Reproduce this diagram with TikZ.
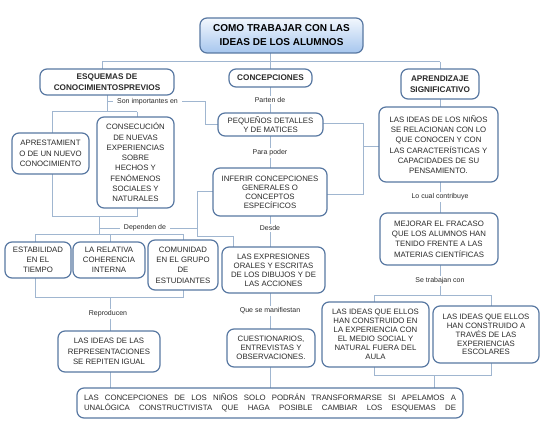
\documentclass[tikz,border=0pt]{standalone}
\usepackage{fontspec}
\setmainfont{Liberation Sans}
\usetikzlibrary{backgrounds}
\definecolor{boxc}{HTML}{5878A2}
\definecolor{linec}{HTML}{A0B6D0}
\definecolor{txtc}{HTML}{2A2A2A}
\definecolor{titlec}{HTML}{A6C6EE}
\definecolor{titletop}{HTML}{F2F7FD}
\begin{document}
\begin{tikzpicture}[x=1pt,y=-1pt,
  box/.style={draw=boxc, line width=1.2pt, rounded corners=7pt, fill=white, align=center, inner sep=0pt, text=txtc, font=\fontsize{7.8}{10.3}\selectfont},
  tight/.style={font=\fontsize{7.8}{8.9}\selectfont},
  hbox/.style={box, font=\bfseries\fontsize{8.2}{10.5}\selectfont},
  lab/.style={fill=white, inner xsep=4pt, inner ysep=1.5pt, text=txtc, font=\fontsize{7}{8}\selectfont},
  conn/.style={draw=linec, line width=1pt}]
\useasboundingbox (0,0) rectangle (560,433);
% boxes
\node[box, top color=titletop, bottom color=titlec, text=black, font=\bfseries\fontsize{10}{14}\selectfont, minimum width=163pt, minimum height=35pt] (title) at (281.5,35.5) {COMO TRABAJAR CON LAS\\IDEAS DE LOS ALUMNOS};
\node[hbox, minimum width=134pt, minimum height=26pt] (esq) at (107,82) {ESQUEMAS DE\\CONOCIMIENTOSPREVIOS};
\node[hbox, minimum width=83pt, minimum height=18pt] (conc) at (270.5,78) {CONCEPCIONES};
\node[hbox, minimum width=78pt, minimum height=30pt] (apr) at (440,84) {APRENDIZAJE\\SIGNIFICATIVO};
\node[box, minimum width=77pt, minimum height=41pt] (apres) at (50.5,153.5) {APRESTAMIENT\\O DE UN NUEVO\\CONOCIMIENTO};
\node[box, minimum width=77pt, minimum height=91pt] (consec) at (135.5,162.5) {CONSECUCIÓN\\DE NUEVAS\\EXPERIENCIAS\\SOBRE\\HECHOS Y\\FENÓMENOS\\SOCIALES Y\\NATURALES};
\node[box, tight, minimum width=105pt, minimum height=23pt] (peq) at (270.5,124.5) {PEQUEÑOS DETALLES\\Y DE MATICES};
\node[box, tight, minimum width=114pt, minimum height=48pt] (inf) at (270,192) {INFERIR CONCEPCIONES\\GENERALES O\\CONCEPTOS\\ESPECÍFICOS};
\node[box, minimum width=119pt, minimum height=75pt] (ninos) at (438.5,144.5) {LAS IDEAS DE LOS NIÑOS\\SE RELACIONAN CON LO\\QUE CONOCEN Y CON\\LAS CARACTERÍSTICAS Y\\CAPACIDADES DE SU\\PENSAMIENTO.};
\node[box, minimum width=118pt, minimum height=52pt] (mej) at (439,239) {MEJORAR EL FRACASO\\QUE LOS ALUMNOS HAN\\TENIDO FRENTE A LAS\\MATERIAS CIENTÍFICAS};
\node[box, minimum width=66pt, minimum height=36pt] (estab) at (38,260) {ESTABILIDAD\\EN EL\\TIEMPO};
\node[box, minimum width=72pt, minimum height=36pt] (relat) at (109,260) {LA RELATIVA\\COHERENCIA\\INTERNA};
\node[box, minimum width=70pt, minimum height=50pt] (comun) at (183,265) {COMUNIDAD\\EN EL GRUPO\\DE\\ESTUDIANTES};
\node[box, tight, minimum width=103pt, minimum height=46pt] (expr) at (273.5,270) {LAS EXPRESIONES\\ORALES Y ESCRITAS\\DE LOS DIBUJOS Y DE\\LAS ACCIONES};
\node[box, tight, minimum width=107pt, minimum height=65pt] (ideasA) at (375.5,334.5) {LAS IDEAS QUE ELLOS\\HAN CONSTRUIDO EN\\LA EXPERIENCIA CON\\EL MEDIO SOCIAL Y\\NATURAL FUERA DEL\\AULA};
\node[box, tight, minimum width=106pt, minimum height=57pt] (ideasB) at (486,334.5) {LAS IDEAS QUE ELLOS\\HAN CONSTRUIDO A\\TRAVÉS DE LAS\\EXPERIENCIAS\\ESCOLARES};
\node[box, minimum width=102pt, minimum height=41pt] (repr) at (109,351.5) {LAS IDEAS DE LAS\\REPRESENTACIONES\\SE REPITEN IGUAL};
\node[box, tight, minimum width=88pt, minimum height=38pt] (cuest) at (271,348) {CUESTIONARIOS,\\ENTREVISTAS Y\\OBSERVACIONES.};
\node[box, font=\fontsize{7.8}{10.5}\selectfont, minimum width=386pt, minimum height=30pt] (bot) at (270,403) {\makebox[372pt][s]{LAS CONCEPCIONES DE LOS NIÑOS SOLO PODRÁN TRANSFORMARSE SI APELAMOS A}\\\makebox[372pt][s]{UNALÓGICA CONSTRUCTIVISTA QUE HAGA POSIBLE CAMBIAR LOS ESQUEMAS DE}};
% labels
\node[lab] (l1) at (147.5,102) {Son importantes en};
\node[lab] (l2) at (145,228) {Dependen de};
\node[lab] (l3) at (270,228) {Desde};
\node[lab] (l4) at (108,314) {Reproducen};
\node[lab] (l5) at (270,311) {Que se manifiestan};
\node[lab] (l6) at (440,197) {Lo cual contribuye};
\node[lab] (l7) at (440,281) {Se trabajan con};
\node[lab] (l8) at (270,100) {Parten de};
\node[lab] (l9) at (270,153) {Para poder};
% junctions
\coordinate (tL) at (102,62); \coordinate (tR) at (440,62);
\coordinate (e0) at (107,102); \coordinate (e1) at (107,112);
\coordinate (k1) at (205,102);
\coordinate (a1) at (52,112); \coordinate (c1) at (137,112);
\coordinate (a2) at (52,217); \coordinate (c2) at (137,217);
\coordinate (d0) at (99,217); \coordinate (d1) at (99,234);
\coordinate (r1) at (35,234); \coordinate (r2) at (183,234); \coordinate (r3) at (110,234);
\coordinate (k2) at (197,228); \coordinate (k3) at (197,236); \coordinate (k4) at (233,236);
\coordinate (b1) at (35,297); \coordinate (b2) at (183,297); \coordinate (b3) at (110,297);
\coordinate (m1) at (363,124); \coordinate (m2) at (363,195); \coordinate (m3) at (363,147);
\coordinate (s0) at (440,295); \coordinate (s1) at (374,295); \coordinate (s2) at (491,295);
\coordinate (u0) at (434,375); \coordinate (u1) at (374,375); \coordinate (u2) at (491,375);
\begin{pgfonlayer}{background}
\fill[white] (0,0) rectangle (560,433);
\draw[conn] (title.center -| conc.north) -- (conc.center);
\draw[conn] (tL) -- (tR);
\draw[conn] (tL) -- (tL |- esq.center);
\draw[conn] (tR) -- (apr.center);
\draw[conn] (esq.center) -- (e1);
\draw[conn] (e0) -- (l1.west);
\draw[conn] (l1.east) -- (k1) |- (peq.center);
\draw[conn] (a1) -- (c1);
\draw[conn] (a1) -- (a1 |- apres.center);
\draw[conn] (c1) -- (c1 |- consec.center);
\draw[conn] (a1 |- apres.center) -- (a2) -- (c2) -- (c2 |- consec.center);
\draw[conn] (d0) -- (d1);
\draw[conn] (d1 |- l2.west) -- (l2.west);
\draw[conn] (r1) -- (r2);
\draw[conn] (r1) -- (r1 |- estab.center);
\draw[conn] (r3) -- (r3 |- relat.center);
\draw[conn] (r2) -- (comun.center);
\draw[conn] (l2.east) -- (k2);
\draw[conn] (inf.center) -| (k3) -- (k4) -- (k4 |- expr.center);
\draw[conn] (inf.center) -- (inf.center |- expr.center);
\draw[conn] (b1 |- estab.center) -- (b1) -- (b2) -- (comun.center);
\draw[conn] (b3) -- (b3 |- bot.center);
\draw[conn] (expr.center -| l5) -- (l5 |- bot.center);
\draw[conn] (conc.center) -- (conc.center |- inf.center);
\draw[conn] (apr.center) -- (apr.center |- ninos.center);
\draw[conn] (peq.center |- m1) -- (m1) -- (m2) -- (inf.center |- m2);
\draw[conn] (m3) -- (ninos.center |- m3);
\draw[conn] (ninos.center -| l6) -- (l6 |- mej.center);
\draw[conn] (mej.center -| s0) -- (s0);
\draw[conn] (s1) -- (s2);
\draw[conn] (s1) -- (s1 |- ideasA.center);
\draw[conn] (s2) -- (s2 |- ideasB.center);
\draw[conn] (s1 |- ideasA.center) -- (u1) -- (u2) -- (s2 |- ideasB.center);
\draw[conn] (u0) -- (u0 |- bot.center);
\end{pgfonlayer}
\end{tikzpicture}
\end{document}
